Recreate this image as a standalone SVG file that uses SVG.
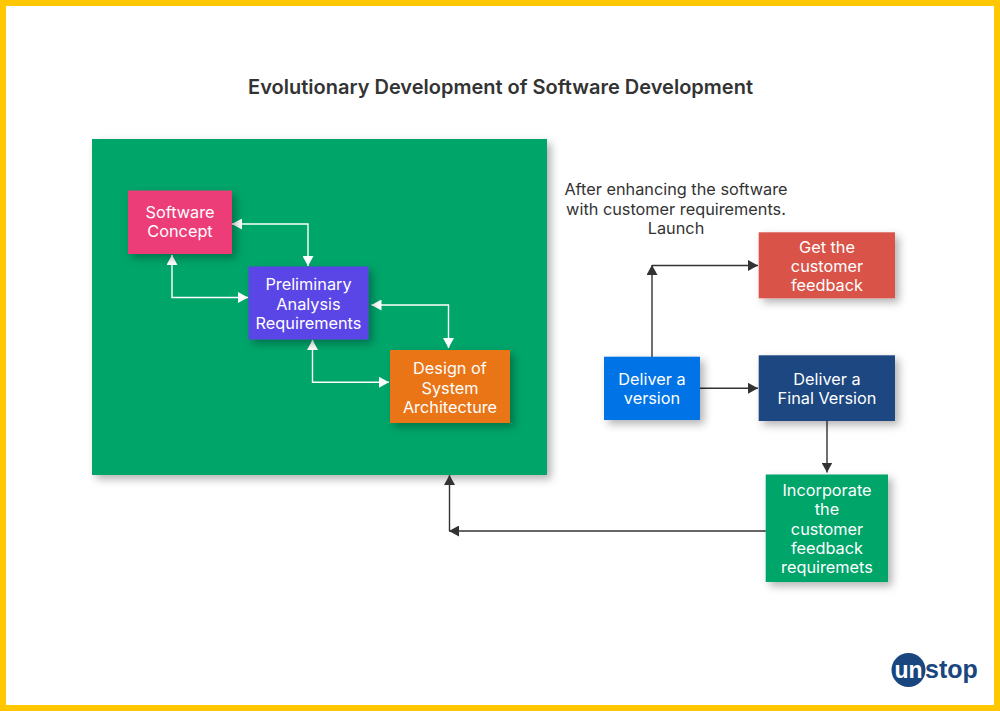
<svg xmlns="http://www.w3.org/2000/svg" width="1000" height="711" viewBox="0 0 1000 711">
<defs>
<filter id="sh" x="-20%" y="-20%" width="145%" height="145%"><feDropShadow dx="4" dy="4" stdDeviation="4" flood-color="#000" flood-opacity="0.3"/></filter>
<marker id="aw" markerUnits="userSpaceOnUse" markerWidth="11" markerHeight="11" refX="10" refY="5.500" orient="auto-start-reverse"><path d="M0 0L10 5.500L0 11Z" fill="#fff"/></marker>
<marker id="ad" markerUnits="userSpaceOnUse" markerWidth="11" markerHeight="11" refX="10" refY="5.500" orient="auto-start-reverse"><path d="M0 0L10 5.500L0 11Z" fill="#333"/></marker>
</defs>
<style>
text{font-family:Inter,"Liberation Sans",sans-serif;font-size:16.3px;fill:#fff;text-anchor:middle}
.d{fill:#333}
.t{font-size:20px;font-weight:600;fill:#333}
.w{fill:none;stroke:#fff;stroke-width:1.4;marker-start:url(#aw);marker-end:url(#aw)}
.k{fill:none;stroke:#333;stroke-width:1.4;marker-end:url(#ad)}
.b{filter:url(#sh)}
.l{font-family:"Liberation Sans",sans-serif;font-weight:700}
</style>
<rect width="1000" height="711" fill="#fec701"/>
<rect x="6" y="6" width="988" height="699" fill="#fff"/>
<text class="t" x="500.500" y="94">Evolutionary Development of Software Development</text>
<g id="panel"><rect class="b" x="92" y="139" width="455" height="336" fill="#00a56b"/></g>
<text class="d" x="676" y="195">After enhancing the software</text>
<text class="d" x="676" y="214.500">with customer requirements.</text>
<text class="d" x="676" y="233.500">Launch</text>
<g id="connectors">
<path class="w" d="M232 224H308V266"/>
<path class="w" d="M172 255V297.500H248"/>
<path class="w" d="M371.500 305H448.500V348"/>
<path class="w" d="M312.500 340V382.300H389"/>
<path class="k" d="M652 357V265"/>
<path class="k" d="M652 265.500H758"/>
<path class="k" d="M700 388.300H758"/>
<path class="k" d="M827 421V472.500"/>
<path class="k" d="M766 531H449"/>
<path class="k" d="M449.500 531V475"/>
</g>
<g id="software-concept"><rect class="b" x="128" y="190.500" width="104" height="63.500" fill="#ed3e78"/><text x="180" y="218">Software</text><text x="180" y="237">Concept</text></g>
<g id="preliminary"><rect class="b" x="248.500" y="266.500" width="120" height="73" fill="#5a44e6"/><text x="308.500" y="290">Preliminary</text><text x="308.500" y="309.500">Analysis</text><text x="308.500" y="328.500">Requirements</text></g>
<g id="design"><rect class="b" x="390" y="350" width="120" height="73" fill="#e97514"/><text x="450" y="374">Design of</text><text x="450" y="393.500">System</text><text x="450" y="412.500">Architecture</text></g>
<g id="get-feedback"><rect class="b" x="758.700" y="232.300" width="136.300" height="66" fill="#d9534a"/><text x="827" y="252.500">Get the</text><text x="827" y="272">customer</text><text x="827" y="291">feedback</text></g>
<g id="deliver-version"><rect class="b" x="604" y="356.700" width="96" height="63.300" fill="#0073e6"/><text x="652" y="384.500">Deliver a</text><text x="652" y="404">version</text></g>
<g id="deliver-final"><rect class="b" x="758.700" y="355.300" width="136.300" height="65.700" fill="#1a4680"/><text x="827" y="384.500">Deliver a</text><text x="827" y="404">Final Version</text></g>
<g id="incorporate"><rect class="b" x="765.700" y="474.500" width="122.300" height="107.500" fill="#00a56b"/><text x="827" y="496">Incorporate</text><text x="827" y="515">the</text><text x="827" y="534.500">customer</text><text x="827" y="553.500">feedback</text><text x="827" y="572.500">requiremets</text></g>
<g id="logo"><circle cx="908.500" cy="670" r="17" fill="#1a4680"/><text class="l" x="908.500" y="677.500" style="font-size:23px">un</text><text class="l" x="951.500" y="678" style="font-size:25px;fill:#1a4680">stop</text></g>
</svg>
